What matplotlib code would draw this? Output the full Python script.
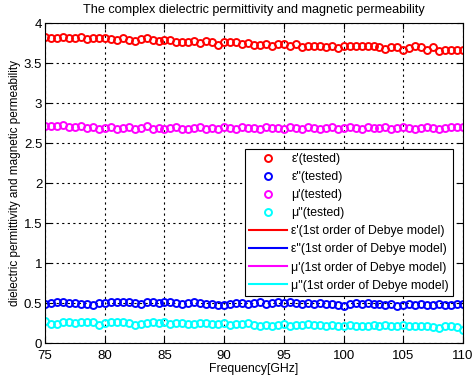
import numpy as np
import matplotlib
matplotlib.use("Agg")
import matplotlib.pyplot as plt

plt.rcParams['font.family'] = ['Liberation Sans', 'DejaVu Sans']

freq = np.arange(75, 110.01, 0.5)

eps_real = [3.83,3.82,3.81,3.83,3.82,3.81,3.83,3.80,3.82,3.82,
            3.82,3.80,3.79,3.81,3.79,3.78,3.80,3.81,3.79,3.78,
            3.79,3.79,3.76,3.76,3.77,3.78,3.75,3.78,3.77,3.73,
            3.77,3.77,3.77,3.74,3.75,3.73,3.73,3.74,3.71,3.74,
            3.74,3.72,3.74,3.70,3.71,3.72,3.71,3.70,3.71,3.69,
            3.72,3.71,3.71,3.72,3.71,3.71,3.70,3.68,3.70,3.70,
            3.67,3.69,3.71,3.70,3.66,3.70,3.65,3.67,3.66,3.67,3.66]

eps_imag = [0.49,0.50,0.51,0.52,0.50,0.50,0.49,0.49,0.48,0.50,
            0.50,0.52,0.51,0.52,0.51,0.50,0.49,0.51,0.52,0.50,
            0.52,0.51,0.50,0.49,0.50,0.51,0.50,0.49,0.49,0.48,
            0.48,0.49,0.50,0.50,0.49,0.50,0.51,0.49,0.50,0.51,
            0.50,0.51,0.50,0.49,0.50,0.49,0.50,0.49,0.49,0.48,
            0.46,0.49,0.50,0.49,0.50,0.49,0.49,0.48,0.49,0.47,
            0.48,0.49,0.48,0.49,0.48,0.48,0.49,0.48,0.48,0.49,0.49]

mu_real = [2.71,2.72,2.71,2.73,2.70,2.70,2.71,2.69,2.70,2.68,
           2.69,2.70,2.68,2.69,2.70,2.68,2.69,2.71,2.68,2.69,
           2.68,2.69,2.70,2.68,2.68,2.69,2.70,2.68,2.69,2.68,
           2.70,2.69,2.68,2.70,2.69,2.69,2.68,2.70,2.69,2.69,
           2.68,2.70,2.69,2.68,2.70,2.69,2.68,2.69,2.70,2.68,
           2.69,2.70,2.69,2.68,2.70,2.69,2.69,2.70,2.68,2.69,
           2.70,2.69,2.68,2.69,2.70,2.69,2.68,2.69,2.70,2.70,2.70]

mu_imag = [0.28,0.24,0.24,0.26,0.26,0.25,0.26,0.27,0.26,0.23,
           0.25,0.26,0.26,0.26,0.25,0.23,0.24,0.25,0.27,0.25,
           0.26,0.24,0.25,0.25,0.24,0.24,0.25,0.25,0.24,0.24,
           0.25,0.23,0.24,0.24,0.25,0.23,0.22,0.23,0.22,0.23,
           0.24,0.22,0.23,0.23,0.24,0.23,0.23,0.22,0.23,0.22,
           0.22,0.23,0.21,0.22,0.22,0.23,0.22,0.23,0.21,0.22,
           0.23,0.22,0.22,0.21,0.22,0.20,0.19,0.21,0.21,0.20,0.17]

tested_labels = ["ε'(tested)", 'ε"(tested)', "μ'(tested)", 'μ"(tested)']
model_labels = ["ε'(1st order of Debye model)", 'ε"(1st order of Debye model)',
                "μ'(1st order of Debye model)", 'μ"(1st order of Debye model)']
colors = ['#ff0000', '#0000ff', '#ff00ff', '#00ffff']
x_ticks = [75, 80, 85, 90, 95, 100, 105, 110]
y_ticks = [0, 0.5, 1, 1.5, 2, 2.5, 3, 3.5, 4]

fig = plt.figure(figsize=(4.74, 3.86), dpi=100)
ax = fig.add_axes([0.095, 0.111, 0.882, 0.829])

for series, lab, c in zip([eps_real, eps_imag, mu_real, mu_imag], tested_labels, colors):
    ax.plot(freq, series, linestyle='none', marker='o', markersize=5.0,
            markerfacecolor='none', markeredgecolor=c, markeredgewidth=1.4, label=lab)
for lab, c in zip(model_labels, colors):
    ax.plot([], [], color=c, linewidth=1.5, label=lab)

ax.set_xlim(75, 110)
ax.set_ylim(0, 4)
ax.set_xticks(x_ticks)
ax.set_xticklabels([str(t) for t in x_ticks])
ax.set_yticks(y_ticks)
ax.set_yticklabels(['0', '0.5', '1', '1.5', '2', '2.5', '3', '3.5', '4'])
ax.tick_params(direction='in', length=4, top=True, right=True, labelsize=9.5)
ax.tick_params(axis='x', pad=5)
ax.tick_params(axis='y', pad=2)
ax.grid(True, color='black', linestyle=(0, (2, 3)), linewidth=0.8)
for s in ax.spines.values():
    s.set_linewidth(0.8)

ax.set_title('The complex dielectric permittivity and magnetic permeability', fontsize=9.1, pad=7)
ax.set_xlabel('Frequency[GHz]', fontsize=8.8, labelpad=1)
ax.set_ylabel('dielectric permittivity and magnetic permeability', fontsize=8.5, labelpad=2)

leg = ax.legend(loc='upper right', bbox_to_anchor=(0.976, 0.608), fontsize=8.8,
                handlelength=3.1, handletextpad=0.35, labelspacing=0.5, borderpad=0.35,
                borderaxespad=0, fancybox=False, framealpha=1, edgecolor='black')
leg.get_frame().set_linewidth(0.8)

fig.savefig('out.png', dpi=100)
